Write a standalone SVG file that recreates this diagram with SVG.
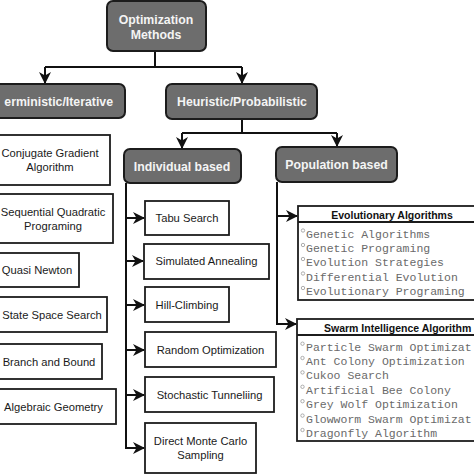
<svg xmlns="http://www.w3.org/2000/svg" width="474" height="474" viewBox="0 0 474 474">
<style>
.g{fill:#6d6d6d;stroke:#1c1c1c;stroke-width:2}
.w{fill:#fff;stroke:#1c1c1c;stroke-width:1.8}
.gt{font-family:"Liberation Sans",Arial,sans-serif;font-weight:bold;font-size:12.3px;fill:#f4f4f4;text-anchor:middle}
.wt{font-family:"Liberation Sans",Arial,sans-serif;font-size:11.2px;fill:#1a1a1a;text-anchor:middle}
.ht{font-family:"Liberation Sans",Arial,sans-serif;font-weight:bold;font-size:10.5px;fill:#111}
.mt{font-family:"Liberation Mono","Courier New",monospace;font-size:11.5px;fill:#6a6a6a}
.b{fill:none;stroke:#999;stroke-width:0.8}
.c{fill:none;stroke:#111;stroke-width:2}
</style>
<defs>
<marker id="ar" viewBox="0 0 12 12" refX="11" refY="6" markerWidth="12" markerHeight="12" markerUnits="userSpaceOnUse" orient="auto">
<path d="M0,0 L12,6 L0,12 L3.5,6 z" fill="#111"/>
</marker>
</defs>
<rect width="474" height="474" fill="#fff"/>
<g id="connectors">
<path class="c" d="M155,51 V67 M45,67 H242"/>
<path class="c" d="M45,67 V83" marker-end="url(#ar)"/>
<path class="c" d="M242,67 V83" marker-end="url(#ar)"/>
<path class="c" d="M242,119 V133 M182,133 H337"/>
<path class="c" d="M182,133 V148" marker-end="url(#ar)"/>
<path class="c" d="M337,133 V146" marker-end="url(#ar)"/>
<path class="c" d="M126,183 V448"/>
<path class="c" d="M126,218 H144" marker-end="url(#ar)"/>
<path class="c" d="M126,261 H143" marker-end="url(#ar)"/>
<path class="c" d="M126,305 H144" marker-end="url(#ar)"/>
<path class="c" d="M126,350 H144" marker-end="url(#ar)"/>
<path class="c" d="M126,395 H144" marker-end="url(#ar)"/>
<path class="c" d="M125,448 H144" marker-end="url(#ar)"/>
<path class="c" d="M277,182 V324"/>
<path class="c" d="M277,216 H297" marker-end="url(#ar)"/>
<path class="c" d="M276,324 H296" marker-end="url(#ar)"/>
</g>
<g id="optimization-methods">
<rect class="g" x="107" y="1" width="99" height="50" rx="6"/>
<text class="gt" x="156" y="24">Optimization</text>
<text class="gt" x="156" y="38.5">Methods</text>
</g>
<g id="deterministic">
<rect class="g" x="-30" y="84" width="155" height="34" rx="6"/>
<text class="gt" x="113" y="105.5" style="text-anchor:end">erministic/Iterative</text>
</g>
<g id="heuristic">
<rect class="g" x="166" y="84" width="151" height="35" rx="6"/>
<text class="gt" x="242" y="105.5">Heuristic/Probabilistic</text>
</g>
<g id="individual">
<rect class="g" x="124" y="149" width="117" height="34" rx="6"/>
<text class="gt" x="182" y="170.5">Individual based</text>
</g>
<g id="population">
<rect class="g" x="276" y="147" width="121" height="35" rx="6"/>
<text class="gt" x="336.5" y="169">Population based</text>
</g>
<g id="conjugate">
<rect class="w" x="-20" y="135" width="130" height="50"/>
<text class="wt" x="50" y="157">Conjugate Gradient</text>
<text class="wt" x="50" y="171">Algorithm</text>
</g>
<g id="sequential">
<rect class="w" x="-20" y="194" width="133" height="49"/>
<text class="wt" x="53" y="215.5">Sequential Quadratic</text>
<text class="wt" x="53" y="229.5">Programing</text>
</g>
<g id="quasi-newton">
<rect class="w" x="-20" y="253" width="99" height="34"/>
<text class="wt" x="37" y="274">Quasi Newton</text>
</g>
<g id="state-space">
<rect class="w" x="-20" y="297" width="127" height="35"/>
<text class="wt" x="52" y="318.5">State Space Search</text>
</g>
<g id="branch-bound">
<rect class="w" x="-20" y="344" width="122" height="35"/>
<text class="wt" x="49" y="365.5">Branch and Bound</text>
</g>
<g id="algebraic">
<rect class="w" x="-20" y="389" width="136" height="35"/>
<text class="wt" x="53.5" y="410.5">Algebraic Geometry</text>
</g>
<g id="tabu">
<rect class="w" x="145" y="201" width="84" height="34"/>
<text class="wt" x="187" y="222">Tabu Search</text>
</g>
<g id="simulated">
<rect class="w" x="144" y="244" width="125" height="35"/>
<text class="wt" x="206.5" y="265">Simulated Annealing</text>
</g>
<g id="hill">
<rect class="w" x="145" y="287" width="84" height="35"/>
<text class="wt" x="187" y="308.5">Hill-Climbing</text>
</g>
<g id="random">
<rect class="w" x="145" y="332" width="131" height="35"/>
<text class="wt" x="210.5" y="353.5">Random Optimization</text>
</g>
<g id="stochastic">
<rect class="w" x="145" y="377" width="129" height="35"/>
<text class="wt" x="209.5" y="398.5">Stochastic Tunneliing</text>
</g>
<g id="direct-monte-carlo">
<rect class="w" x="145" y="423" width="111" height="50"/>
<text class="wt" x="200.5" y="445">Direct Monte Carlo</text>
<text class="wt" x="200.5" y="459">Sampling</text>
</g>
<g id="evolutionary">
<rect class="w" x="298" y="206" width="190" height="94"/>
<line x1="298" y1="222" x2="488" y2="222" stroke="#1c1c1c" stroke-width="1.8"/>
<text class="ht" x="392" y="218.5" style="text-anchor:middle">Evolutionary Algorithms</text>
<circle class="b" cx="303" cy="230.5" r="1.7"/>
<text class="mt" x="306" y="237.5">Genetic Algorithms</text>
<circle class="b" cx="303" cy="245" r="1.7"/>
<text class="mt" x="306" y="252">Genetic Programing</text>
<circle class="b" cx="303" cy="259" r="1.7"/>
<text class="mt" x="306" y="266">Evolution Strategies</text>
<circle class="b" cx="303" cy="273.5" r="1.7"/>
<text class="mt" x="306" y="280.5">Differential Evolution</text>
<circle class="b" cx="303" cy="288" r="1.7"/>
<text class="mt" x="306" y="295">Evolutionary Programing</text>
</g>
<g id="swarm">
<rect class="w" x="297" y="319" width="191" height="122"/>
<line x1="297" y1="335" x2="488" y2="335" stroke="#1c1c1c" stroke-width="1.8"/>
<text class="ht" x="324" y="332">Swarm Intelligence Algorithm</text>
<circle class="b" cx="302.5" cy="343.7" r="1.7"/>
<text class="mt" x="306" y="350.7">Particle Swarm Optimizat</text>
<circle class="b" cx="302.5" cy="358" r="1.7"/>
<text class="mt" x="306" y="365">Ant Colony Optimization</text>
<circle class="b" cx="302.5" cy="372.4" r="1.7"/>
<text class="mt" x="306" y="379.4">Cukoo Search</text>
<circle class="b" cx="302.5" cy="386.8" r="1.7"/>
<text class="mt" x="306" y="393.8">Artificial Bee Colony</text>
<circle class="b" cx="302.5" cy="401.2" r="1.7"/>
<text class="mt" x="306" y="408.2">Grey Wolf Optimization</text>
<circle class="b" cx="302.5" cy="415.6" r="1.7"/>
<text class="mt" x="306" y="422.6">Glowworm Swarm Optimizat</text>
<circle class="b" cx="302.5" cy="430" r="1.7"/>
<text class="mt" x="306" y="437">Dragonfly Algorithm</text>
</g>
</svg>
